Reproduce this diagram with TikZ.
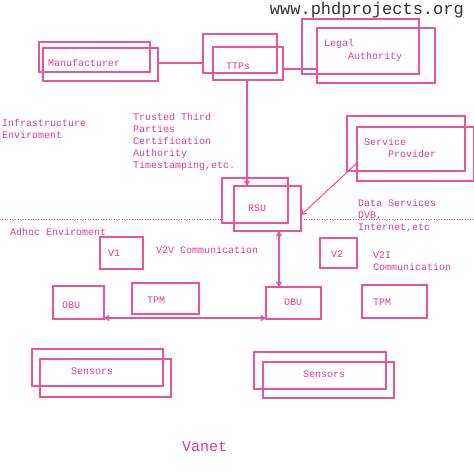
\documentclass[tikz,border=0pt]{standalone}
\usepackage{fontspec}
\setmainfont{Liberation Mono}
\usetikzlibrary{arrows.meta}
\definecolor{boxpink}{RGB}{236,84,152}
\definecolor{txtpink}{RGB}{222,64,140}
\definecolor{wwwgray}{RGB}{50,50,50}
\tikzset{
  box/.style={draw=boxpink, line width=1.4pt, inner sep=0pt, outer sep=0pt, anchor=north west},
  sbox/.style={draw=boxpink, line width=1.1pt, inner sep=0pt, outer sep=0pt, anchor=north west},
  lbl/.style={text=txtpink, font=\fontsize{10}{12}\selectfont, inner sep=0pt, anchor=west, align=left},
  conn/.style={draw=boxpink, line width=1.3pt},
  tip/.style={-{Straight Barb[length=4pt,width=5pt]}},
  dtip/.style={{Straight Barb[length=4pt,width=5pt]}-{Straight Barb[length=4pt,width=5pt]}},
}
\begin{document}
\begin{tikzpicture}[x=1pt,y=-1pt]
\useasboundingbox (0,0) rectangle (474,474);
\fill[white] (0,0) rectangle (474,474);
% title
\node[text=wwwgray, font=\fontsize{17}{20}\selectfont, inner sep=0pt, anchor=east] (www) at (464,10.5) {www.phdprojects.org};
% Manufacturer
\node[box, minimum width=111pt, minimum height=30pt] (mfr1) at (39,42) {};
\node[box, minimum width=115pt, minimum height=33pt] (mfr2) at (43,48) {};
\node[lbl] (mfrt) at (48,63) {Manufacturer};
% TTPs
\node[box, minimum width=74pt, minimum height=39pt] (ttp1) at (203,34) {};
\node[box, minimum width=70pt, minimum height=33pt] (ttp2) at (213,47) {};
\node[lbl] (ttpt) at (226,66) {TTPs};
% Legal Authority
\node[box, minimum width=117pt, minimum height=55pt] (leg1) at (302,19) {};
\node[box, minimum width=118pt, minimum height=55pt] (leg2) at (317,28) {};
\node[lbl] (legt1) at (324,44) {Legal};
\node[lbl] (legt2) at (348,57) {Authority};
% Service Provider
\node[box, minimum width=118pt, minimum height=55pt] (svc1) at (347,116) {};
\node[box, minimum width=117pt, minimum height=54pt] (svc2) at (357,127) {};
\node[lbl] (svct1) at (364,142) {Service};
\node[lbl] (svct2) at (388,154) {Provider};
% RSU
\node[box, minimum width=66pt, minimum height=45pt] (rsu1) at (222,178) {};
\node[box, minimum width=67pt, minimum height=45pt] (rsu2) at (234,186) {};
\node[lbl] (rsut) at (248,208) {RSU};
% environment labels
\node[lbl] (infra) at (2,123) {Infrastructure};
\node[lbl] (infra2) at (2,135) {Enviroment};
\node[lbl] (adhoc) at (10,232) {Adhoc Enviroment};
\node[lbl, anchor=north west] (trust) at (133,113) {Trusted Third\\Parties\\Certification\\Authority\\Timestamping,etc.};
\node[lbl, anchor=north west] (data) at (358,199) {Data Services\\DVB,\\Internet,etc};
% dotted separator
\draw[boxpink, line width=0.6pt, dotted] (2,219) -- (rsu1.west |- 0,219);
\draw[boxpink, line width=0.6pt, dotted] (rsu2.east |- 0,219) -- (473,219);
% V1 V2
\node[sbox, minimum width=43pt, minimum height=32pt] (v1) at (100,237) {};
\node[lbl] (v1t) at (108,253) {V1};
\node[sbox, minimum width=37pt, minimum height=30pt] (v2) at (320,238) {};
\node[lbl] (v2t) at (331,254) {V2};
\node[lbl] (v2v) at (156,250) {V2V Communication};
\node[lbl, anchor=north west] (v2i) at (373,252) {V2I\\Communication};
% OBU / TPM
\node[sbox, minimum width=51pt, minimum height=33pt] (obu1) at (53,286) {};
\node[lbl] (obu1t) at (62,305) {OBU};
\node[sbox, minimum width=67pt, minimum height=31pt] (tpm1) at (132,283) {};
\node[lbl] (tpm1t) at (147,300) {TPM};
\node[sbox, minimum width=55pt, minimum height=32pt] (obu2) at (266,287) {};
\node[lbl] (obu2t) at (284,302) {OBU};
\node[sbox, minimum width=65pt, minimum height=33pt] (tpm2) at (362,285) {};
\node[lbl] (tpm2t) at (373,302) {TPM};
% Sensors
\node[box, minimum width=131pt, minimum height=37pt] (sen1a) at (32,349) {};
\node[box, minimum width=131pt, minimum height=38pt] (sen1b) at (40,359) {};
\node[lbl] (sen1t) at (71,371) {Sensors};
\node[box, minimum width=132pt, minimum height=37pt] (sen2a) at (254,352) {};
\node[box, minimum width=131pt, minimum height=36pt] (sen2b) at (263,362) {};
\node[lbl] (sen2t) at (303,374) {Sensors};
% Vanet
\node[text=txtpink, font=\fontsize{15}{18}\selectfont, inner sep=0pt, anchor=west] (vanet) at (182,447) {Vanet};
% connectors
\draw[conn] (mfr2.east |- 0,63) -- (ttp1.west |- 0,63);
\draw[conn] (ttp2.east |- 0,69) -- (leg2.west |- 0,69);
\draw[conn, tip] (247,80) coordinate (ttpb) -- (ttpb |- rsu2.north);
\draw[conn, line width=1pt, tip] (svc2.west |- 0,163) -- (rsu2.east |- 0,215);
\draw[conn, dtip] (279,231) coordinate (rsub) -- (rsub |- obu2.north);
\draw[conn, dtip] (obu1.east |- 0,318) -- (obu2.west |- 0,318);
\end{tikzpicture}
\end{document}
